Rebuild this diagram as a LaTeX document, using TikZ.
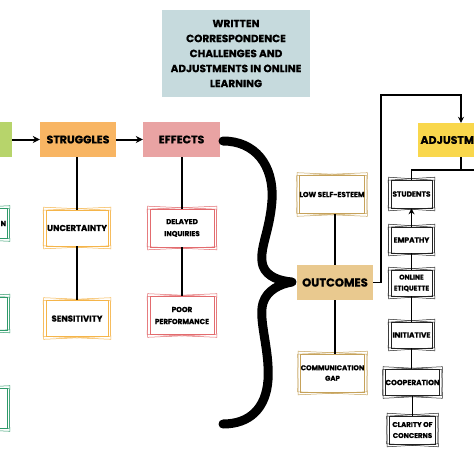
\documentclass[tikz,border=0pt]{standalone}
\usepackage{fontspec}
\setmainfont{Poppins}[BoldFeatures={FakeBold=0.8}]
\usetikzlibrary{arrows.meta}
\definecolor{titlebg}{HTML}{C6DADD}
\definecolor{greenbg}{HTML}{B7D46B}
\definecolor{orangebg}{HTML}{F8B563}
\definecolor{pinkbg}{HTML}{E9A3A3}
\definecolor{tanbg}{HTML}{E9C98F}
\definecolor{yellowbg}{HTML}{F9D74C}
\definecolor{greenfr}{HTML}{2F9A6A}
\definecolor{orangefr}{HTML}{F5B54A}
\definecolor{redfr}{HTML}{E36B6E}
\definecolor{goldfr}{HTML}{C6A25A}
\definecolor{blackfr}{HTML}{222222}
\newcommand\decoframe[2]{%
 \draw[#2, line width=0.5pt] ([shift={(-2pt,2.5pt)}]#1.north west) -- ([shift={(2pt,-0.5pt)}]#1.north east) -- ([shift={(2.5pt,-2.5pt)}]#1.south east) -- ([shift={(-2.5pt,0.5pt)}]#1.south west) -- cycle;
 \draw[#2, line width=0.5pt] ([shift={(-2.5pt,-0.5pt)}]#1.north west) -- ([shift={(2.5pt,2.5pt)}]#1.north east) -- ([shift={(2pt,0.5pt)}]#1.south east) -- ([shift={(-2pt,-2.5pt)}]#1.south west) -- cycle;}
\tikzset{
  titlebox/.style={fill=titlebg, minimum width=148pt, minimum height=87pt, inner sep=0pt, align=center, font=\bfseries\fontsize{10.5}{15}\selectfont},
  header/.style={fill=#1, minimum height=35pt, inner sep=0pt, font=\bfseries\fontsize{11}{12}\selectfont},
  fbox/.style={draw=#1, line width=0.6pt, fill=white, inner sep=0pt, align=center, font=\bfseries\fontsize{7.2}{12}\selectfont, minimum width=64pt, minimum height=38pt},
  rbox/.style={fbox=blackfr, minimum width=41pt, minimum height=26pt, font=\bfseries\fontsize{7.4}{11}\selectfont},
  link/.style={line width=1.6pt, draw=black},
  slink/.style={line width=1.3pt, draw=black},
  harrow/.style={line width=2pt, draw=black, -{Stealth[length=7pt,width=7pt]}},
}
\begin{document}
\begin{tikzpicture}[x=1pt,y=-1pt]
\useasboundingbox (0,0) rectangle (474,474);
\clip (0,0) rectangle (474,474);
\fill[white] (0,0) rectangle (474,474);
% title
\node[titlebox] (title) at (236,53.5) {WRITTEN\\CORRESPONDENCE\\CHALLENGES AND\\ADJUSTMENTS IN ONLINE\\LEARNING};
% headers
\node[header=greenbg, minimum width=76pt] (chal) at (-26,139.5) {};
\node[header=orangebg, minimum width=76pt] (stru) at (78,139.5) {STRUGGLES};
\node[header=pinkbg, minimum width=77pt] (eff) at (181.5,139.5) {EFFECTS};
\node[header=tanbg, minimum width=76pt, font=\bfseries\fontsize{11.5}{13}\selectfont] (out) at (335,282.5) {OUTCOMES};
\node[header=yellowbg, minimum width=86pt, minimum height=34pt] (adj) at (461,140) {ADJUSTMENTS};
% left green column (cut off)
\node[fbox=greenfr, minimum width=57pt, minimum height=30pt, text width=55pt, align=right] (g1) at (-21.5,223.5) {N};
\node[fbox=greenfr, minimum width=57pt, minimum height=33pt] (g2) at (-21.5,313.5) {};
\node[fbox=greenfr, minimum width=57pt, minimum height=40pt] (g3) at (-21.5,408.5) {};
% struggles
\node[fbox=orangefr, minimum width=62pt, minimum height=36pt, font=\bfseries\fontsize{8.5}{12}\selectfont] (unc) at (77,228) {UNCERTAINTY};
\node[fbox=orangefr, minimum width=62pt, minimum height=36pt, font=\bfseries\fontsize{8.5}{12}\selectfont] (sen) at (77,318.5) {SENSITIVITY};
% effects
\node[fbox=redfr] (del) at (182,228) {DELAYED\\INQUIRIES};
\node[fbox=redfr] (poor) at (182,315.5) {POOR\\PERFORMANCE};
% outcomes
\node[fbox=goldfr] (low) at (332,194.5) {LOW SELF-ESTEEM};
\node[fbox=goldfr, font=\bfseries\fontsize{7}{10.5}\selectfont] (gap) at (332.5,373) {COMMUNICATION\\GAP};
% adjustments column
\node[rbox, minimum height=28pt] (stu) at (411.5,194) {STUDENTS};
\node[rbox] (emp) at (411.5,240) {EMPATHY};
\node[rbox, font=\bfseries\fontsize{6.8}{11}\selectfont] (etq) at (411.5,283) {ONLINE\\ETIQUETTE};
\node[rbox] (ini) at (411.5,335) {INITIATIVE};
\node[rbox, minimum width=48pt] (coop) at (412.5,382.5) {COOPERATION};
\node[rbox, minimum width=46pt, minimum height=28pt, font=\bfseries\fontsize{7}{11}\selectfont] (cla) at (412.5,430) {CLARITY OF\\CONCERNS};
% frames
\decoframe{g1}{greenfr}\decoframe{g2}{greenfr}\decoframe{g3}{greenfr}
\decoframe{unc}{orangefr}\decoframe{sen}{orangefr}
\decoframe{del}{redfr}\decoframe{poor}{redfr}
\decoframe{low}{goldfr}\decoframe{gap}{goldfr}
\decoframe{stu}{blackfr}\decoframe{emp}{blackfr}\decoframe{etq}{blackfr}
\decoframe{ini}{blackfr}\decoframe{coop}{blackfr}\decoframe{cla}{blackfr}
% header arrows
\draw[harrow] (chal.east) -- (stru.west);
\draw[harrow] (stru.east) -- (eff.west);
% vertical links
\draw[link] (stru.south -| unc.north) -- (unc.north);
\draw[link] (unc.south) -- (sen.north);
\draw[link] (eff.south -| del.north) -- (del.north);
\draw[link] (del.south) -- (poor.north);
\draw[link] (out.north |- low.south) -- (out.north);
\draw[link] (out.south) -- (out.south |- gap.north);
% brace
\draw[line width=9pt, line cap=round, line join=round] (223,141) .. controls (255,141) and (274,165) .. (272,200) .. controls (270,232) and (258,250) .. (263,266) .. controls (267,277) and (280,281) .. (292,282) .. controls (280,284) and (267,290) .. (263,303) .. controls (258,320) and (270,350) .. (268,380) .. controls (266,408) and (250,424) .. (223,424);
% outcomes to adjustments
\coordinate (turn) at (381,95);
\draw[slink, -{Stealth[length=6pt,width=6pt]}] (out.east) -| (turn) -| (adj.north);
\coordinate (branch) at (480,170);
\draw[slink] (adj.south) |- (branch);
\draw[slink] (branch) -| (stu.north);
\draw[slink, -{Stealth[length=6pt,width=6pt]}] (emp.north) -- (stu.south);
\draw[slink] (emp.south) -- (etq.north);
\draw[slink] (etq.south) -- (ini.north);
\draw[slink] (ini.south) -- (ini.south |- coop.north);
\draw[slink] (coop.south) -- (cla.north);
\end{tikzpicture}
\end{document}
